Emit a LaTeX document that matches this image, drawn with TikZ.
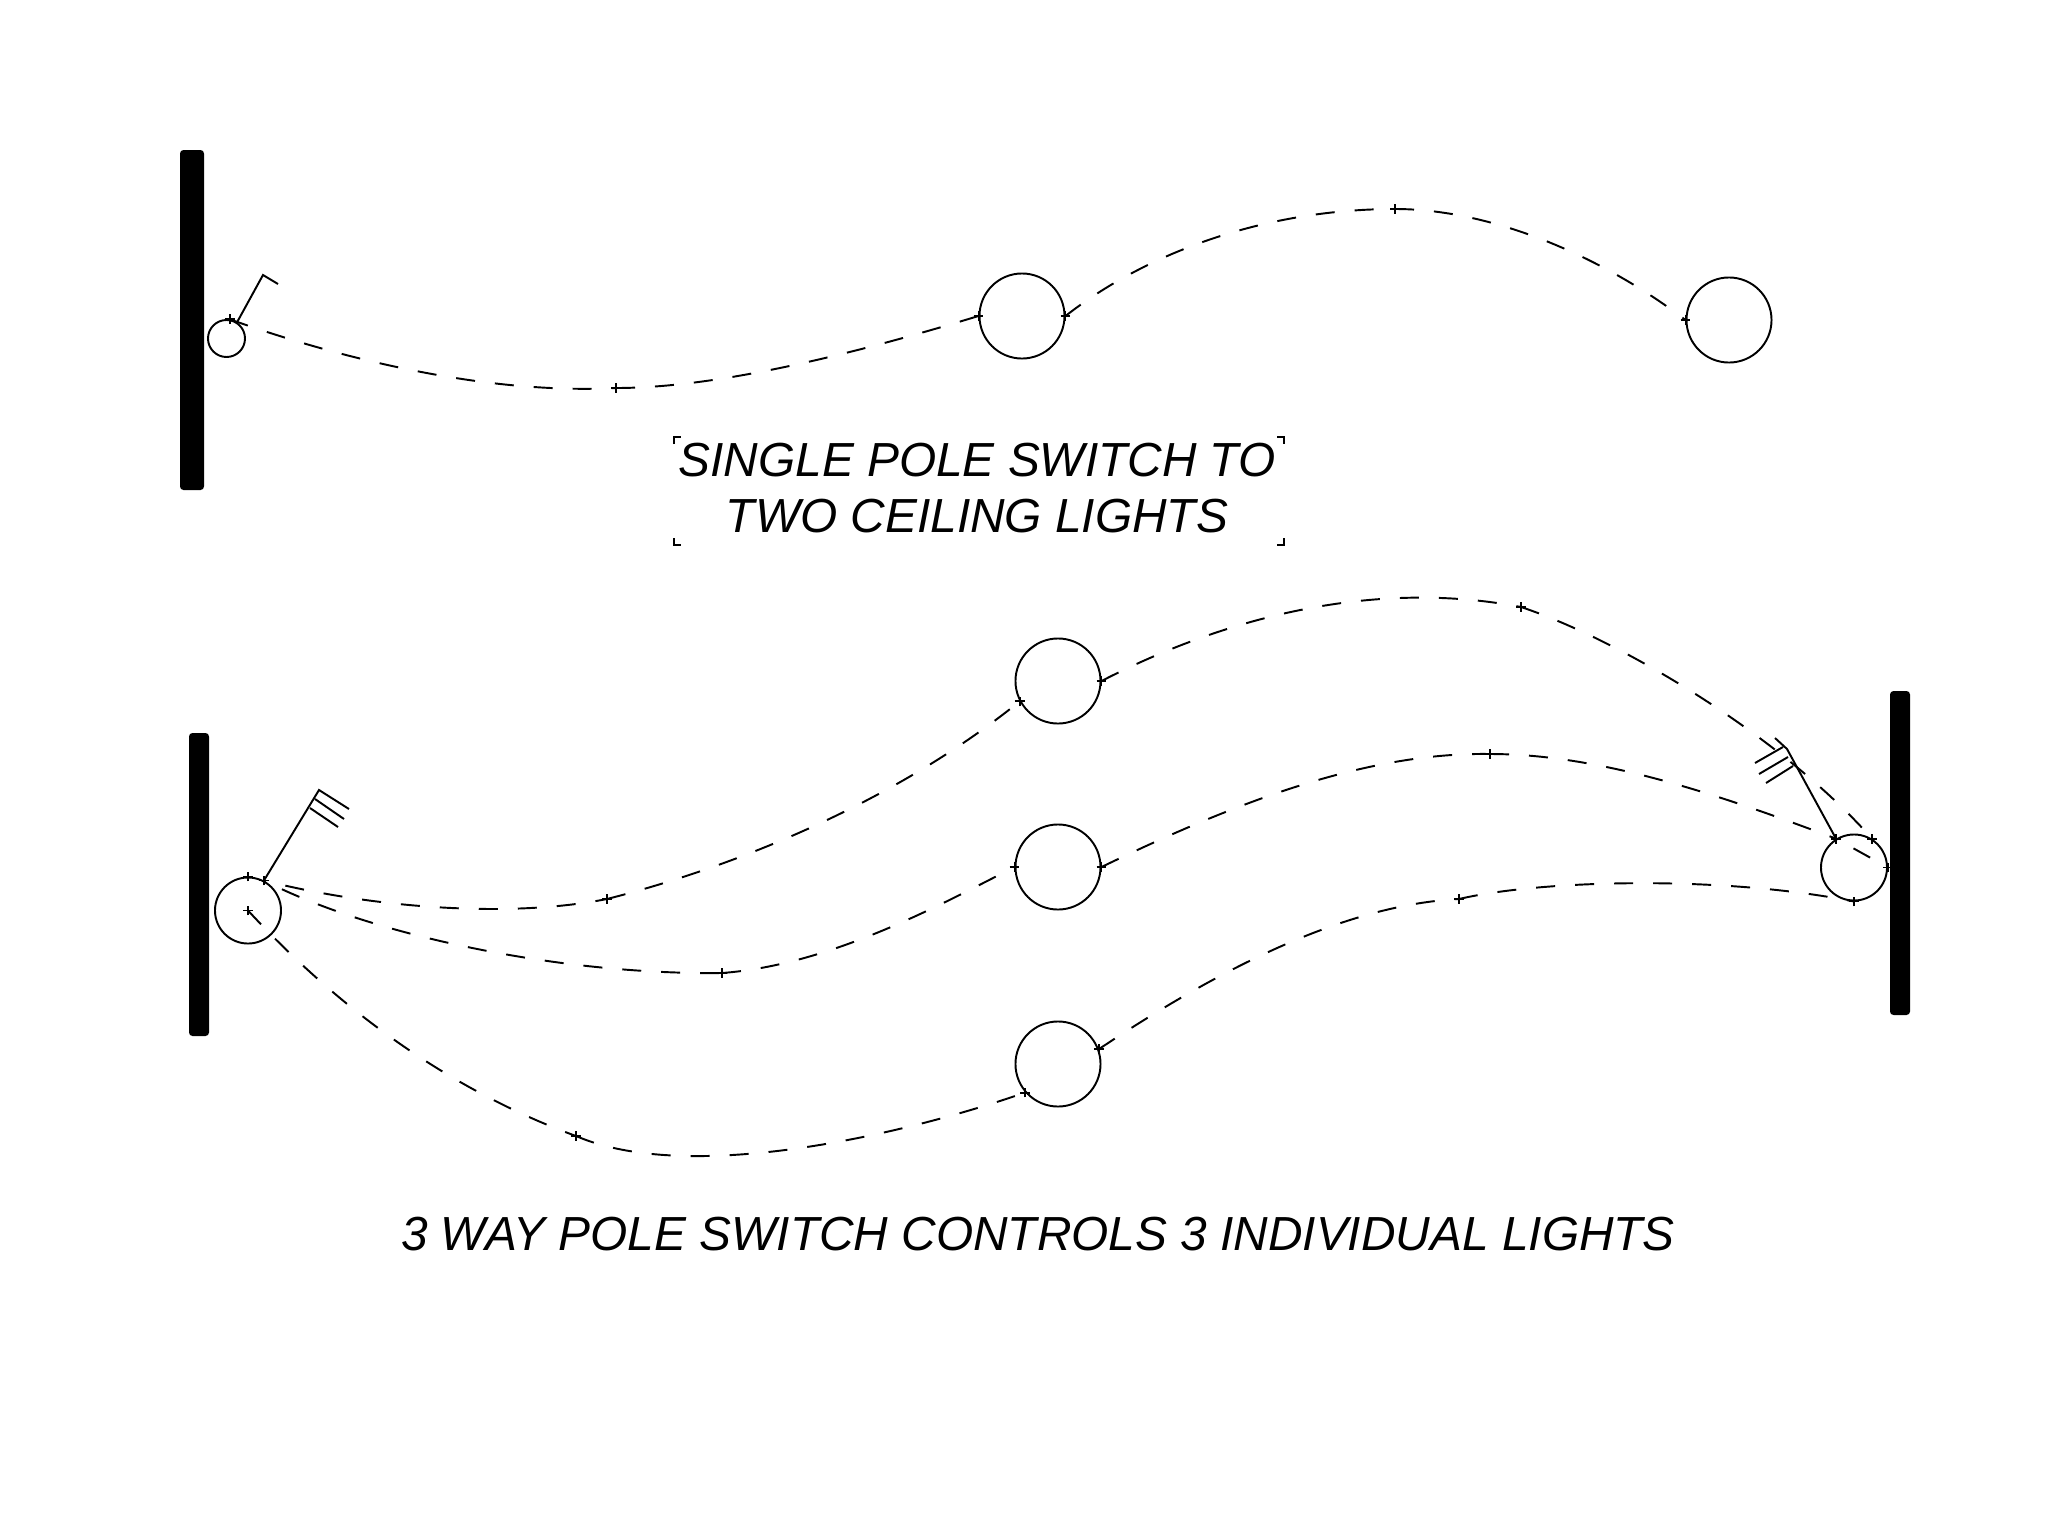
\documentclass[tikz,border=0pt]{standalone}
\usepackage{fontspec}
\setmainfont{Liberation Sans}
\usetikzlibrary{shapes.misc}

\begin{document}
\begin{tikzpicture}[x=0.01cm,y=0.01cm]
\tikzstyle{every node}+=[inner sep=0pt]
\tikzstyle{thin line}=[line width=0.55pt]
\tikzstyle{wire}=[thin line,dash pattern=on 0.19cm off 0.2cm]
\tikzstyle{lamp}=[circle,draw,thin line,minimum size=0.85cm]
\tikzstyle{switchbox}=[circle,draw,thin line,minimum size=0.66cm]
\tikzstyle{tick}=[cross out,rotate=45,draw,thin line,minimum size=0.05cm]
\tikzstyle{caption}=[font=\fontsize{13.6}{15.7}\selectfont\itshape,align=center]
\useasboundingbox (0,0) rectangle (2048,-1536);

% walls
\fill [rounded corners=1pt] (180,-150) rectangle (204,-490);
\fill [rounded corners=1pt] (189,-733) rectangle (209,-1036);
\fill [rounded corners=1pt] (1890,-691) rectangle (1910,-1015);

% single pole
\draw (226.5,-338.5) node [switchbox,minimum size=0.37cm] (swone) {};
\draw (1022,-316) node [lamp] (lampone) {};
\draw (1729,-320) node [lamp] (lamptwo) {};
\draw (616,-388) node [tick] (ta) {};
\draw (1395,-209) node [tick] (tb) {};
\draw (swone.80) node [tick] {};
\draw (lampone.west) node [tick] {};
\draw (lampone.east) node [tick] {};
\draw (lamptwo.west) node [tick] {};
\coordinate (fone) at (263,-275);
\draw [thin line] (swone.57) -- (fone) -- +(15,-9);
\draw [wire] (swone.80) .. controls (330,-355) and (480,-395) .. (ta.center);
\draw [wire] (ta.center) .. controls (720,-388) and (860,-352) .. (lampone.west);
\draw [wire] (lampone.east) .. controls (1150,-250) and (1270,-209) .. (tb.center);
\draw [wire] (tb.center) .. controls (1490,-209) and (1600,-255) .. (lamptwo.west);

\draw (977,-488) node [caption] (capone) {SINGLE POLE SWITCH TO\\TWO CEILING LIGHTS};
\draw [thin line] (674,-444) |- (681,-437);
\draw [thin line] (1277,-437) -| (1284,-444);
\draw [thin line] (674,-538) |- (681,-545);
\draw [thin line] (1277,-545) -| (1284,-538);

% three way
\draw (248,-910.5) node [switchbox] (swl) {};
\draw (1854,-867.5) node [switchbox] (swr) {};
\draw (1058,-681) node [lamp] (lampa) {};
\draw (1058,-867) node [lamp] (lampb) {};
\draw (1058,-1064) node [lamp] (lampc) {};
\draw (607,-899) node [tick] (tc) {};
\draw (1521,-607) node [tick] (td) {};
\draw (722,-973) node [tick] (te) {};
\draw (1490,-754) node [tick] (tf) {};
\draw (576,-1136) node [tick] (tg) {};
\draw (1459,-899) node [tick] (th) {};
\draw (swl.90) node [tick] {};
\draw (swl.62) node [tick] {};
\draw (swl.center) node [tick] {};
\draw (swr.58) node [tick] {};
\draw (swr.122) node [tick] {};
\draw (swr.270) node [tick] {};
\draw (swr.east) node [tick] {};
\draw (lampa.208) node [tick] {};
\draw (lampa.east) node [tick] {};
\draw (lampb.west) node [tick] {};
\draw (lampb.east) node [tick] {};
\draw (lampc.221) node [tick] {};
\draw (lampc.20) node [tick] {};

\coordinate (fl) at (319,-790);
\draw [thin line] (swl.62) -- (fl) -- +(30,-19);
\draw [thin line] (315,-799) -- +(29,-20);
\draw [thin line] (310,-808) -- +(28,-19);
\coordinate (fr) at (1787,-749);
\draw [thin line] (swr.122) -- (fr) -- (1775,-738);
\draw [thin line] (1783,-747) -- +(-28,-16);
\draw [thin line] (1788,-757) -- +(-29,-17);
\draw [thin line] (1793,-766) -- +(-27,-17);

\draw [wire,dash phase=0.17cm] (swl.62) .. controls (360,-905) and (500,-920) .. (tc.center);
\draw [wire] (tc.center) .. controls (760,-860) and (910,-790) .. (lampa.208);
\draw [wire] (lampa.east) .. controls (1220,-620) and (1370,-578) .. (td.center);
\draw [wire] (td.center) .. controls (1620,-640) and (1780,-735) .. (swr.58);
\draw [wire,dash phase=0.19cm] (swl.62) .. controls (370,-935) and (560,-975) .. (te.center);
\draw [wire] (te.center) .. controls (830,-965) and (940,-905) .. (lampb.west);
\draw [wire] (lampb.east) .. controls (1240,-800) and (1370,-752) .. (tf.center);
\draw [wire] (tf.center) .. controls (1600,-754) and (1720,-795) .. (swr.122);
\draw [wire,dash phase=0.19cm] (swr.122) -- (swr.east);
\draw [wire] (swl.center) .. controls (340,-1010) and (450,-1090) .. (tg.center);
\draw [wire] (tg.center) .. controls (690,-1185) and (906,-1134) .. (lampc.221);
\draw [wire] (lampc.20) .. controls (1210,-975) and (1340,-905) .. (th.center);
\draw [wire] (th.center) .. controls (1540,-880) and (1720,-875) .. (swr.270);

\draw (1038,-1234) node [caption] (captwo) {3 WAY POLE SWITCH CONTROLS 3 INDIVIDUAL LIGHTS};
\end{tikzpicture}
\end{document}
